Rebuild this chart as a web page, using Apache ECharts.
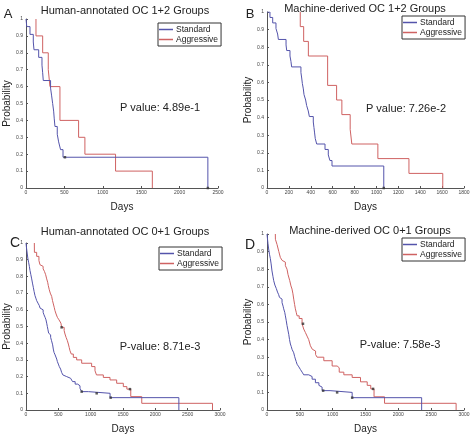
<!DOCTYPE html>
<html><head><meta charset="utf-8">
<script src="https://cdn.jsdelivr.net/npm/echarts@6/dist/echarts.min.js"></script>
<style>html,body{margin:0;padding:0;background:#fff}#c{width:474px;height:438px}</style>
</head><body><div id="c"></div>
<script>
// ---------- DATA ----------
const seriesNames = ['Standard', 'Aggressive'];
const titles = ['Human-annotated OC 1+2 Groups', 'Machine-derived OC 1+2 Groups', 'Human-annotated OC 0+1 Groups', 'Machine-derived OC 0+1 Groups'];
const panelLetters = ['A', 'B', 'C', 'D'];
const pValues = ['P value: 4.89e-1', 'P value: 7.26e-2', 'P-value: 8.71e-3', 'P-value: 7.58e-3'];
const xMax = [2500, 1800, 3000, 3000];
const xInterval = [500, 200, 500, 500];

// Panel A
const A_std_t = [0, 10, 52, 95, 104, 165, 208, 217, 225, 320, 334, 347, 360, 368, 377, 407, 425, 450, 482, 2368];
const A_std_s = [1, 0.955, 0.909, 0.864, 0.818, 0.773, 0.727, 0.682, 0.636, 0.591, 0.545, 0.5, 0.455, 0.409, 0.364, 0.318, 0.273, 0.227, 0.182, 0];
const A_agg_t = [130, 130, 217, 290, 312, 442, 685, 767, 1166, 1645];
const A_agg_s = [1, 0.9, 0.8, 0.7, 0.6, 0.4, 0.3, 0.2, 0.1, 0];
const A_cens_t = [507, 2368];
const A_cens_s = [0.182, 0];

// Panel B
const B_std_t = [0, 27, 52, 82, 97, 104, 174, 180, 210, 219, 225, 310, 317, 323, 332, 338, 353, 362, 377, 387, 423, 429, 435, 441, 454, 530, 560, 575, 594, 1067];
const B_std_s = [1, 0.969, 0.938, 0.906, 0.875, 0.844, 0.813, 0.781, 0.75, 0.719, 0.688, 0.656, 0.625, 0.594, 0.563, 0.531, 0.5, 0.469, 0.438, 0.406, 0.375, 0.344, 0.313, 0.281, 0.25, 0.219, 0.188, 0.156, 0.125, 0];
const B_agg_t = [304, 304, 335, 378, 554, 636, 684, 760, 775, 1013, 1297, 1606];
const B_agg_s = [1, 0.917, 0.833, 0.75, 0.583, 0.5, 0.417, 0.333, 0.25, 0.167, 0.083, 0];
const B_cens_t = [1067];
const B_cens_s = [0];

// Panel C
const C_std_t = [0, 8, 18, 28, 40, 52, 62, 75, 88, 100, 113, 125, 139, 152, 165, 185, 206, 218, 245, 265, 278, 295, 309, 320, 330, 340, 350, 365, 381, 395, 412, 422, 433, 450, 464, 475, 485, 500, 515, 535, 551, 570, 588, 629, 690, 720, 760, 800, 835, 861, 965, 1300, 2364];
const C_std_s = [1, 0.97, 0.94, 0.91, 0.885, 0.86, 0.835, 0.81, 0.785, 0.76, 0.735, 0.71, 0.685, 0.67, 0.655, 0.64, 0.625, 0.61, 0.6, 0.585, 0.57, 0.555, 0.54, 0.52, 0.5, 0.48, 0.46, 0.45, 0.435, 0.415, 0.39, 0.365, 0.345, 0.33, 0.32, 0.305, 0.29, 0.275, 0.26, 0.245, 0.225, 0.21, 0.2, 0.19, 0.18, 0.17, 0.155, 0.145, 0.13, 0.11, 0.1, 0.074, 0];
const C_agg_t = [129, 130, 165, 200, 216, 242, 265, 285, 304, 320, 335, 345, 360, 375, 397, 410, 423, 436, 448, 465, 485, 510, 540, 551, 590, 603, 620, 640, 655, 668, 680, 700, 732, 783, 861, 1015, 1067, 1090, 1196, 1299, 1402, 1505, 1560, 1620, 1790, 2884];
const C_agg_s = [1, 0.944, 0.92, 0.895, 0.87, 0.86, 0.845, 0.83, 0.81, 0.785, 0.765, 0.745, 0.72, 0.7, 0.68, 0.655, 0.635, 0.615, 0.595, 0.575, 0.555, 0.54, 0.52, 0.495, 0.475, 0.455, 0.435, 0.415, 0.395, 0.375, 0.355, 0.335, 0.315, 0.3, 0.28, 0.26, 0.235, 0.21, 0.195, 0.18, 0.16, 0.14, 0.125, 0.08, 0.04, 0];
const C_cens_t = [861, 1093, 1309, 551, 1608];
const C_cens_s = [0.11, 0.1, 0.074, 0.495, 0.125];

// Panel D
const D_std_t = [0, 8, 15, 25, 38, 51, 63, 76, 90, 102, 120, 142, 160, 178, 190, 203, 229, 245, 254, 270, 280, 292, 305, 318, 331, 343, 356, 370, 381, 395, 407, 420, 432, 445, 458, 485, 509, 535, 559, 636, 687, 737, 790, 814, 839, 960, 1297, 2355];
const D_std_s = [1, 0.97, 0.945, 0.915, 0.885, 0.86, 0.83, 0.79, 0.76, 0.735, 0.71, 0.69, 0.67, 0.655, 0.64, 0.63, 0.61, 0.59, 0.575, 0.555, 0.535, 0.51, 0.48, 0.455, 0.43, 0.4, 0.375, 0.36, 0.345, 0.335, 0.325, 0.305, 0.29, 0.275, 0.26, 0.245, 0.23, 0.215, 0.2, 0.19, 0.175, 0.155, 0.14, 0.13, 0.11, 0.1, 0.07, 0];
const D_agg_t = [127, 128, 153, 180, 203, 230, 254, 280, 305, 320, 335, 346, 365, 381, 395, 407, 420, 432, 445, 458, 490, 534, 559, 585, 610, 635, 661, 690, 712, 740, 763, 865, 992, 1068, 1100, 1170, 1297, 1424, 1526, 1580, 1630, 1790, 2880];
const D_agg_s = [1, 0.97, 0.94, 0.9, 0.867, 0.85, 0.84, 0.82, 0.8, 0.77, 0.75, 0.735, 0.705, 0.687, 0.66, 0.63, 0.6, 0.575, 0.555, 0.535, 0.52, 0.49, 0.46, 0.44, 0.42, 0.4, 0.365, 0.345, 0.335, 0.315, 0.3, 0.28, 0.25, 0.24, 0.215, 0.2, 0.185, 0.16, 0.14, 0.12, 0.075, 0.038, 0];
const D_cens_t = [855, 1068, 1297, 548, 1615];
const D_cens_s = [0.11, 0.1, 0.07, 0.49, 0.12];

// ---------- LAYOUT ----------
const FONT = 'Liberation Sans, Arial, Helvetica, sans-serif';
const BLUE = '#5454ab';
const RED = '#cf6262';
const grids = [
  {left: 26, top: 19, width: 192, height: 169},
  {left: 267, top: 12, width: 197, height: 176},
  {left: 26, top: 243, width: 194, height: 167},
  {left: 267, top: 234, width: 197, height: 176}
];
const legendPos = [[158, 23], [402, 16], [159, 247], [402, 238]];
const titlePos = [[125, 10.5], [365, 9], [125, 231.5], [370, 230.5]];
const letterPos = [[8, 14], [250, 14], [15, 243], [250, 245.5]];
const pPos = [[160, 108], [406, 109], [160, 346.5], [400, 345]];
const curves = [
  [A_std_t, A_std_s, A_agg_t, A_agg_s, A_cens_t, A_cens_s],
  [B_std_t, B_std_s, B_agg_t, B_agg_s, B_cens_t, B_cens_s],
  [C_std_t, C_std_s, C_agg_t, C_agg_s, C_cens_t, C_cens_s],
  [D_std_t, D_std_s, D_agg_t, D_agg_s, D_cens_t, D_cens_s]
];
const zip = (t, s) => t.map((v, i) => [v, s[i]]);

const xAxis = [], yAxis = [], series = [], legend = [], graphic = [];
for (let i = 0; i < 4; i++) {
  xAxis.push({
    gridIndex: i, type: 'value', min: 0, max: xMax[i], interval: xInterval[i],
    axisLine: {lineStyle: {color: '#555', width: 1}},
    axisTick: {inside: true, length: 2, lineStyle: {color: '#555'}},
    axisLabel: {fontSize: 5, color: '#444', margin: 2, fontFamily: FONT, formatter: v => String(v)},
    splitLine: {show: false},
    name: 'Days', nameLocation: 'middle', nameGap: 14,
    nameTextStyle: {fontSize: 10, color: '#222', fontFamily: FONT}
  });
  yAxis.push({
    gridIndex: i, type: 'value', min: 0, max: 1, interval: 0.1,
    axisLine: {show: true, lineStyle: {color: '#555', width: 1}},
    axisTick: {show: true, inside: true, length: 2, lineStyle: {color: '#555'}},
    axisLabel: {fontSize: 5, color: '#444', margin: 3, fontFamily: FONT,
      formatter: v => (v === 0 ? '0' : v === 1 ? '1' : v.toFixed(1))},
    splitLine: {show: false},
    name: 'Probability', nameLocation: 'middle', nameGap: 2, nameRotate: 90,
    nameTextStyle: {fontSize: 10, color: '#222', fontFamily: FONT}
  });
  const c = curves[i];
  series.push({name: seriesNames[0], type: 'line', step: 'end', xAxisIndex: i, yAxisIndex: i,
    data: zip(c[0], c[1]), showSymbol: false, lineStyle: {color: BLUE, width: 1}, itemStyle: {color: BLUE}, z: 3});
  series.push({name: seriesNames[1], type: 'line', step: 'end', xAxisIndex: i, yAxisIndex: i,
    data: zip(c[2], c[3]), showSymbol: false, lineStyle: {color: RED, width: 1}, itemStyle: {color: RED}, z: 2});
  series.push({name: 'censored', type: 'scatter', xAxisIndex: i, yAxisIndex: i,
    data: zip(c[4], c[5]), symbol: 'rect', symbolSize: 2.5, itemStyle: {color: '#333'}, z: 4});
  legend.push({
    data: seriesNames, orient: 'vertical', left: legendPos[i][0], top: legendPos[i][1],
    borderColor: '#333', borderWidth: 1, borderRadius: 0, backgroundColor: '#fff',
    padding: [2, 3, 2, 1], itemGap: 1, itemWidth: 14, itemHeight: 1.5, icon: 'rect',
    textStyle: {fontSize: 8.5, color: '#222', fontFamily: FONT, padding: [0, 0, 0, -2]}, selectedMode: false
  });
  graphic.push({type: 'text', x: titlePos[i][0], y: titlePos[i][1],
    style: {text: titles[i], font: '11px ' + FONT, fill: '#222', textAlign: 'center', textVerticalAlign: 'middle'}});
  graphic.push({type: 'text', x: letterPos[i][0], y: letterPos[i][1],
    style: {text: panelLetters[i], font: (i >= 2 ? '14px ' : '13px ') + FONT, fill: '#222', textAlign: 'center', textVerticalAlign: 'middle'}});
  graphic.push({type: 'text', x: pPos[i][0], y: pPos[i][1],
    style: {text: pValues[i], font: '11px ' + FONT, fill: '#222', textAlign: 'center', textVerticalAlign: 'middle'}});
}

const chart = echarts.init(document.getElementById('c'), null, {renderer: 'canvas'});
chart.setOption({
  backgroundColor: '#fff', animation: false,
  grid: grids, xAxis, yAxis, series, legend, graphic
});
</script></body></html>
